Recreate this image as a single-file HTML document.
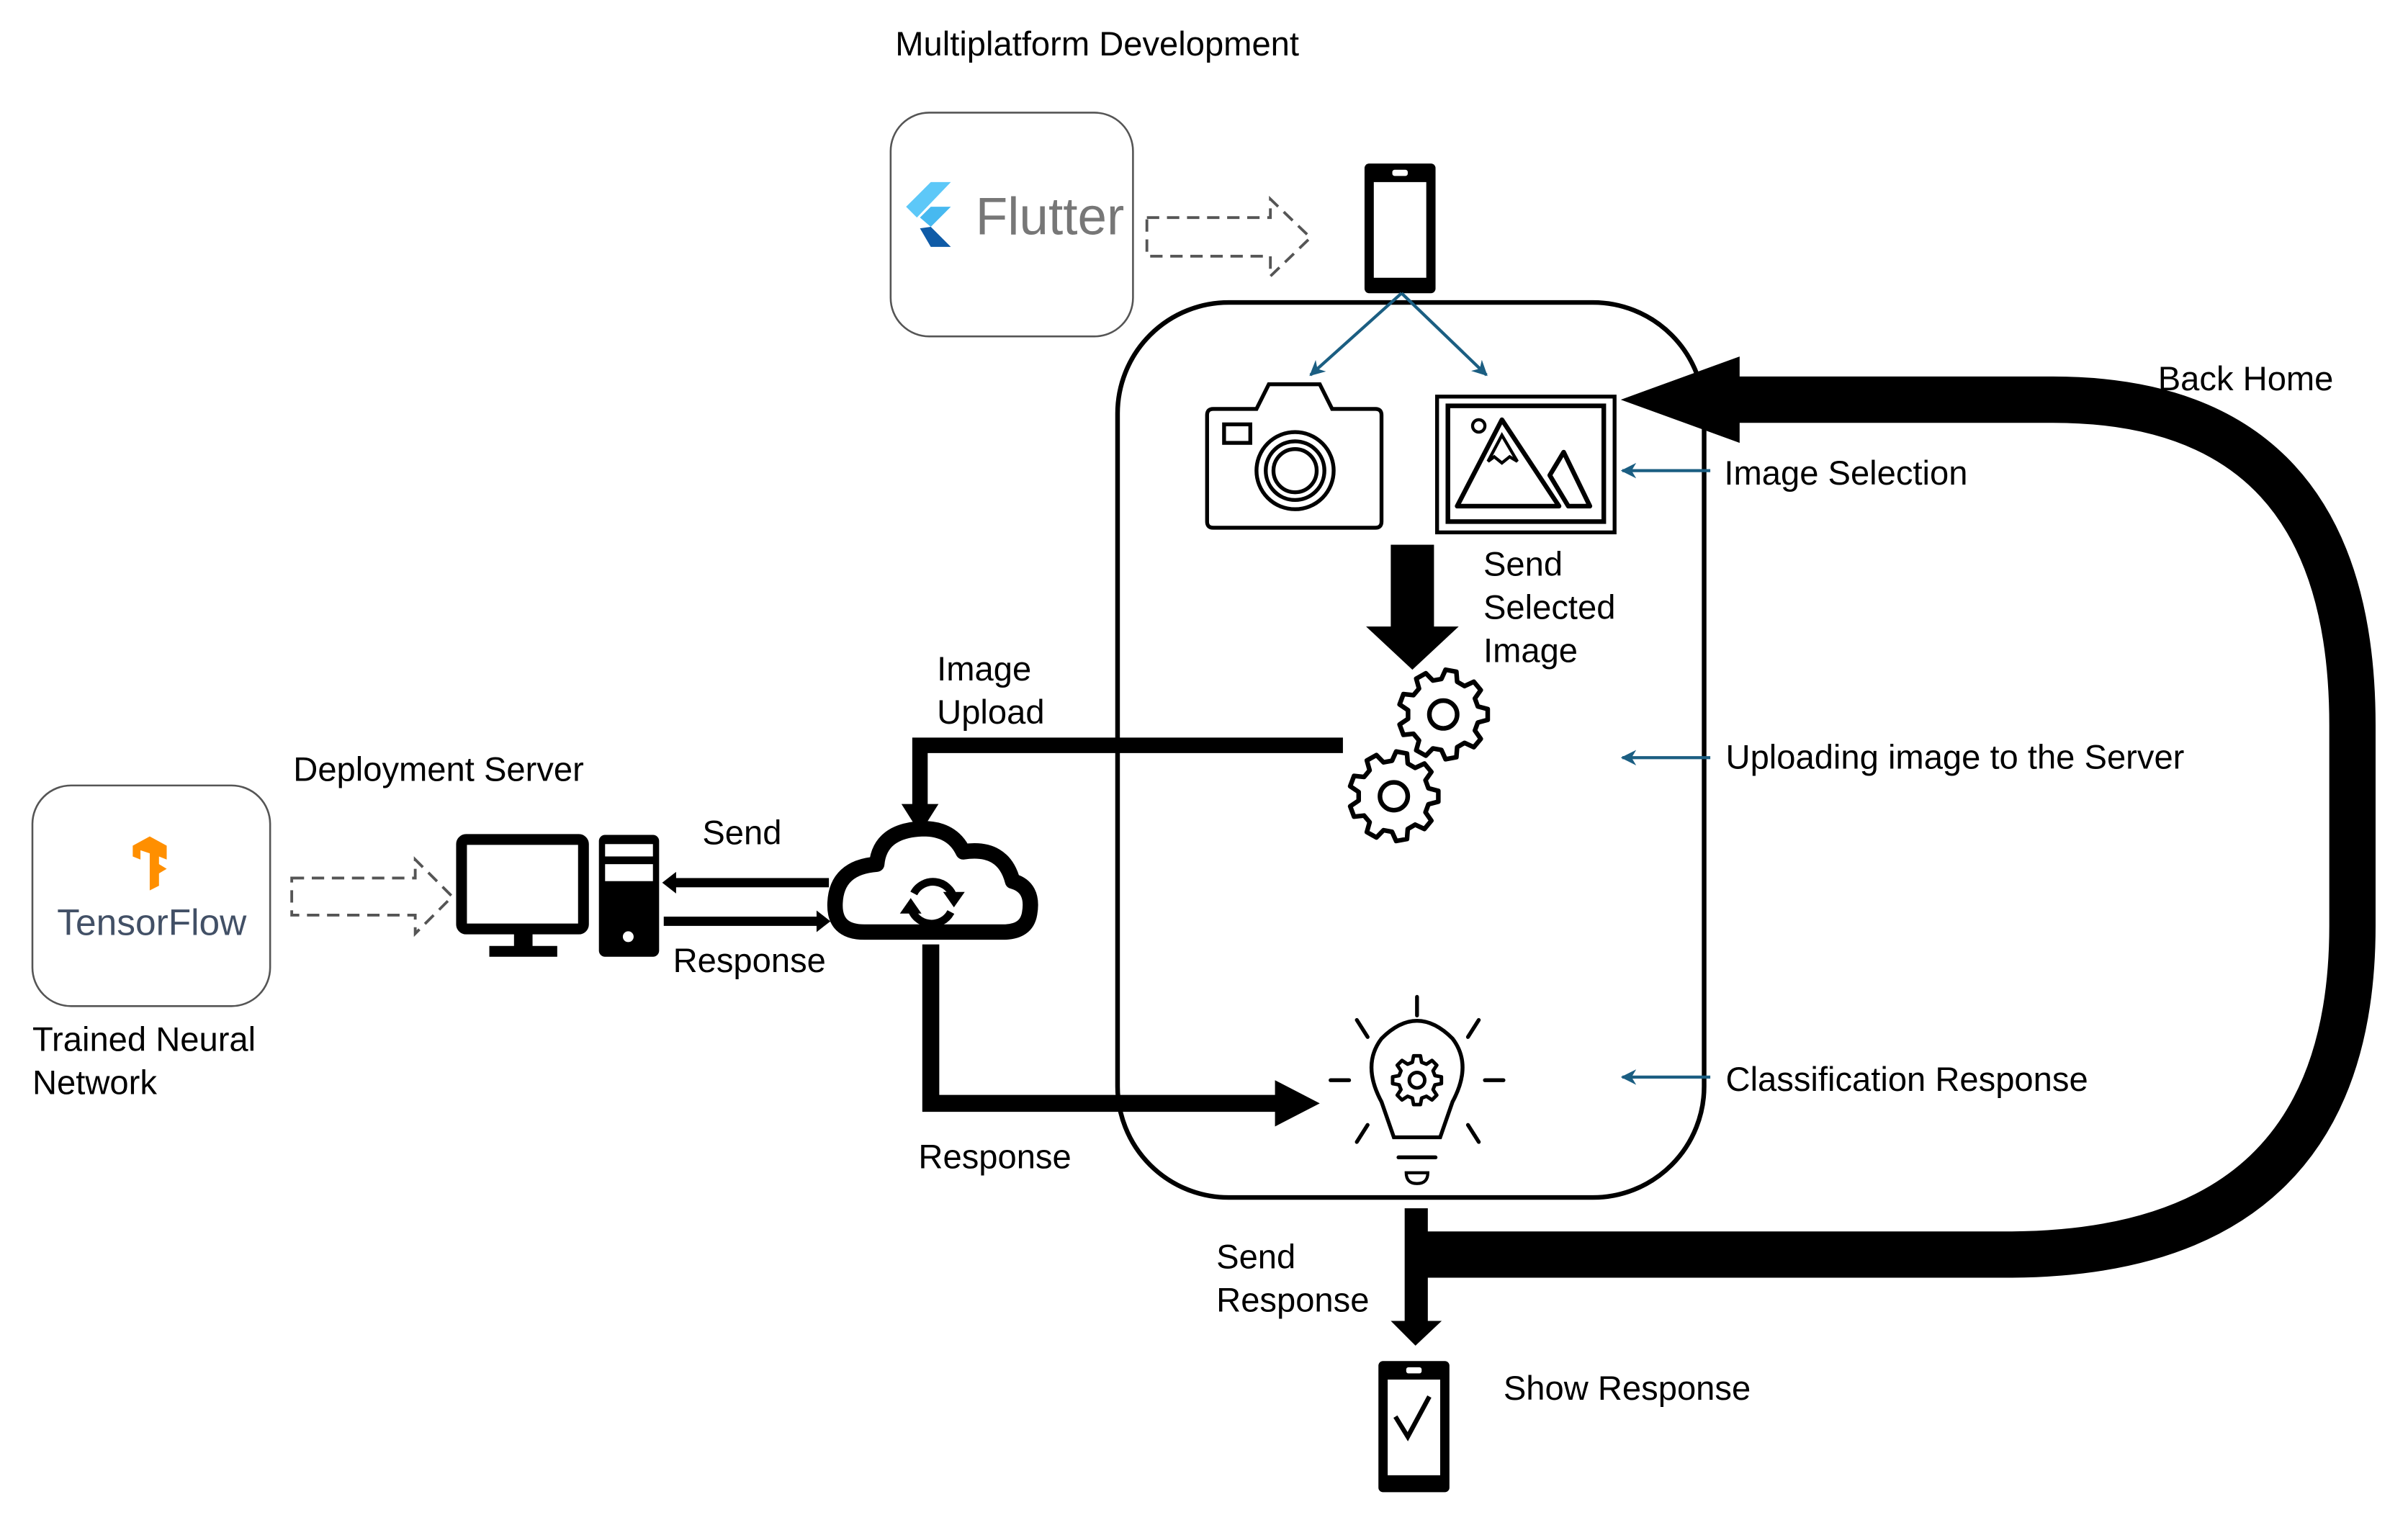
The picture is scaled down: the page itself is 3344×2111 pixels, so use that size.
<!DOCTYPE html>
<html><head><meta charset="utf-8"><style>
html,body{margin:0;padding:0;background:#fff;}
svg{display:block;}
text{font-family:"Liberation Sans",Arial,sans-serif;font-size:22px;fill:#000;}
</style></head><body>
<svg id="s" width="3344" height="2111" viewBox="0 0 1560 985" preserveAspectRatio="none" xmlns="http://www.w3.org/2000/svg">
<defs>
<marker id="ba" markerWidth="10" markerHeight="10" refX="9" refY="5" orient="auto" markerUnits="userSpaceOnUse"><path d="M0,0 L10,5 L0,10 L3,5 Z" fill="#1b5e82"/></marker>
</defs>
<rect width="1560" height="985" fill="#fff"/>

<!-- Titles -->
<text x="580" y="36">Multiplatform Development</text>

<!-- Flutter box -->
<rect x="577" y="73" width="157" height="145" rx="25" fill="#fff" stroke="#555" stroke-width="1.2"/>
<polygon points="603,118 616,118 594,141 587,134" fill="#5dc8f8"/>
<polygon points="603,134 616,134 603,147 596,141" fill="#47b9f0"/>
<polygon points="596,148 603,147 616,160 603,160" fill="#0f5ba7"/>
<text x="632" y="152" style="font-size:34px;fill:#777">Flutter</text>
<!-- dashed arrow -->
<path d="M743,141 L823,141 L823,129 L849,154 L823,179 L823,166 L743,166 Z" fill="none" stroke="#555" stroke-width="1.8" stroke-dasharray="8,5"/>
<!-- phone top -->
<rect x="884" y="106" width="46" height="84" rx="3" fill="#000"/>
<rect x="890" y="118" width="34" height="62" fill="#fff"/>
<rect x="902" y="110" width="10" height="4" rx="1.5" fill="#fff"/>

<!-- main rounded container -->
<rect x="724" y="196" width="380" height="580" rx="72" fill="none" stroke="#000" stroke-width="3"/>

<!-- blue lines from phone -->
<line x1="908" y1="190" x2="849" y2="243" stroke="#1b5e82" stroke-width="2" marker-end="url(#ba)"/>
<line x1="908" y1="190" x2="963" y2="243" stroke="#1b5e82" stroke-width="2" marker-end="url(#ba)"/>

<!-- camera -->
<path d="M786,265 L814,265 L822,249 L855,249 L863,265 L891,265 Q895,265 895,269 L895,338 Q895,342 891,342 L786,342 Q782,342 782,338 L782,269 Q782,265 786,265 Z" fill="none" stroke="#000" stroke-width="2.5"/>
<rect x="793" y="275" width="17" height="12" fill="none" stroke="#000" stroke-width="2.5"/>
<circle cx="839" cy="305" r="25" fill="none" stroke="#000" stroke-width="2.5"/>
<circle cx="839" cy="305" r="19" fill="none" stroke="#000" stroke-width="2.5"/>
<circle cx="839" cy="305" r="14" fill="none" stroke="#000" stroke-width="2.5"/>

<!-- image frame -->
<rect x="931" y="257" width="115" height="88" fill="none" stroke="#000" stroke-width="2.5"/>
<rect x="938" y="263" width="101" height="75" fill="none" stroke="#000" stroke-width="3"/>
<circle cx="958" cy="276" r="4" fill="none" stroke="#000" stroke-width="2"/>
<path d="M944,328 L973,272 L1010,328 Z" fill="none" stroke="#000" stroke-width="3" stroke-linejoin="round"/>
<path d="M964,299 L973,282 L983,299 L978,296 L973,300 L968,296 Z" fill="none" stroke="#000" stroke-width="2"/>
<path d="M1004,308 L1013,293 L1030,328 L1016,328 Z" fill="none" stroke="#000" stroke-width="3" stroke-linejoin="round"/>

<!-- big down arrow -->
<rect x="901" y="353" width="28" height="54" fill="#000"/>
<polygon points="885,406 945,406 915,434" fill="#000"/>
<text x="961" y="373">Send</text>
<text x="961" y="401">Selected</text>
<text x="961" y="429">Image</text>

<!-- Back Home loop -->
<path d="M1120,259 L1330,259 Q1524,259 1524,470 L1524,600 Q1524,813 1300,813 L918,813" fill="none" stroke="#000" stroke-width="30"/>
<polygon points="1050,259 1127,231 1127,287" fill="#000"/>
<text x="1398" y="253">Back Home</text>

<!-- blue labels arrows -->
<line x1="1108" y1="305" x2="1051" y2="305" stroke="#1b5e82" stroke-width="2" marker-end="url(#ba)"/>
<text x="1117" y="314">Image Selection</text>
<line x1="1108" y1="491" x2="1051" y2="491" stroke="#1b5e82" stroke-width="2" marker-end="url(#ba)"/>
<text x="1118" y="498">Uploading image to the Server</text>
<line x1="1108" y1="698" x2="1051" y2="698" stroke="#1b5e82" stroke-width="2" marker-end="url(#ba)"/>
<text x="1118" y="707">Classification Response</text>

<!-- gears -->
<g id="gears"></g>

<!-- Image upload path -->
<path d="M870,483 L596,483 L596,524" fill="none" stroke="#000" stroke-width="10"/>
<polygon points="584,521 608,521 596,540" fill="#000"/>
<text x="607" y="441">Image</text>
<text x="607" y="469">Upload</text>

<!-- cloud -->
<path d="M560,604 Q540,604 541,585 Q542,562 568,560 Q570,538 598,537 Q617,537 624,552 Q650,548 656,571 Q670,575 667,592 Q665,604 650,604 Z" fill="#fff" stroke="#000" stroke-width="10" stroke-linejoin="round"/>
<path d="M592,579 A14,14 0 0 1 618,582" fill="none" stroke="#000" stroke-width="5"/>
<polygon points="611,578 625,578 618,588" fill="#000"/>
<path d="M616,591 A14,14 0 0 1 590,588" fill="none" stroke="#000" stroke-width="5"/>
<polygon points="583,592 597,592 590,582" fill="#000"/>

<!-- computer -->
<rect x="299" y="544" width="79" height="58" rx="3" fill="none" stroke="#000" stroke-width="7"/>
<rect x="333" y="605" width="12" height="10" fill="#000"/>
<rect x="317" y="613" width="44" height="7" fill="#000"/>
<rect x="388" y="541" width="39" height="79" rx="4" fill="#000"/>
<rect x="392" y="547" width="31" height="8" fill="#fff"/>
<rect x="392" y="560" width="31" height="11" fill="#fff"/>
<circle cx="407" cy="607" r="3.5" fill="#fff"/>

<!-- send/response arrows -->
<rect x="436" y="569" width="101" height="6" fill="#000"/>
<polygon points="429,572 438,565 438,579" fill="#000"/>
<rect x="430" y="594" width="101" height="6" fill="#000"/>
<polygon points="538,597 529,590 529,604" fill="#000"/>
<text x="455" y="547">Send</text>
<text x="436" y="630">Response</text>
<text x="190" y="506">Deployment Server</text>

<!-- TensorFlow box -->
<rect x="21" y="509" width="154" height="143" rx="25" fill="#fff" stroke="#555" stroke-width="1.2"/>
<path d="M86,548 L97,542 L108,548 L108,557 L103,555 L103,560 L108,563 L103,566 L103,574 L97,577 L97,553 L91,551 L91,557 L86,555 Z" fill="#ff8f00"/>
<text x="37" y="606" style="font-size:24px;fill:#425066">TensorFlow</text>
<path d="M189,569 L269,569 L269,557 L293,581 L269,605 L269,593 L189,593 Z" fill="none" stroke="#555" stroke-width="1.8" stroke-dasharray="8,5"/>
<text x="21" y="681">Trained Neural</text>
<text x="21" y="709">Network</text>

<!-- response path -->
<path d="M603,612 L603,715 L830,715" fill="none" stroke="#000" stroke-width="11"/>
<polygon points="826,700 855,715 826,730" fill="#000"/>
<text x="595" y="757">Response</text>

<!-- bulb -->
<g stroke="#000" stroke-width="2.5" fill="none" stroke-linecap="round">
<line x1="918" y1="646" x2="918" y2="658"/>
<line x1="879" y1="661" x2="886" y2="672"/>
<line x1="958" y1="661" x2="951" y2="672"/>
<line x1="862" y1="700" x2="874" y2="700"/>
<line x1="962" y1="700" x2="974" y2="700"/>
<line x1="879" y1="740" x2="886" y2="729"/>
<line x1="958" y1="740" x2="951" y2="729"/>
<path d="M903,737 L895,714 Q882,690 895,673 Q918,650 941,673 Q954,690 941,714 L933,737 Z"/>
<line x1="906" y1="750" x2="930" y2="750"/>
<path d="M911,760 L925,760 Q925,767 918,767 Q911,767 911,760 Z" stroke-width="2"/>
</g>
<g id="bulbgear"></g>

<!-- send response arrow -->
<rect x="910" y="783" width="15" height="75" fill="#000"/>
<polygon points="901,856 934,856 917,872" fill="#000"/>
<text x="788" y="822">Send</text>
<text x="788" y="850">Response</text>

<!-- bottom phone -->
<rect x="893" y="882" width="46" height="85" rx="3" fill="#000"/>
<rect x="899" y="894" width="34" height="62" fill="#fff"/>
<rect x="911" y="886" width="10" height="4" rx="1.5" fill="#fff"/>
<path d="M904,918 L912,931 L926,905" fill="none" stroke="#000" stroke-width="3"/>
<text x="974" y="907">Show Response</text>
</svg>
<script>
function gear(cx,cy,ro,ri,n,hole,sw){
 var pts=[];for(var i=0;i<n;i++){var a=i*2*Math.PI/n;var s=Math.PI/n;
 var angs=[a-s*0.35,a+s*0.35,a+s*0.65,a+2*s-s*0.65];var rs=[ro,ro,ri,ri];
 for(var k=0;k<4;k++){pts.push((cx+rs[k]*Math.cos(angs[k])).toFixed(1)+","+(cy+rs[k]*Math.sin(angs[k])).toFixed(1));}}
 return '<polygon points="'+pts.join(" ")+'" fill="#fff" stroke="#000" stroke-width="'+sw+'" stroke-linejoin="round"/><circle cx="'+cx+'" cy="'+cy+'" r="'+hole+'" fill="none" stroke="#000" stroke-width="'+sw+'"/>';}
document.getElementById("gears").innerHTML=gear(935,463,29,23,9,9,3)+gear(903,516,29,23,9,9,3);
document.getElementById("bulbgear").innerHTML=gear(918,700,16,12,8,5,2.3);
</script>
</body></html>
